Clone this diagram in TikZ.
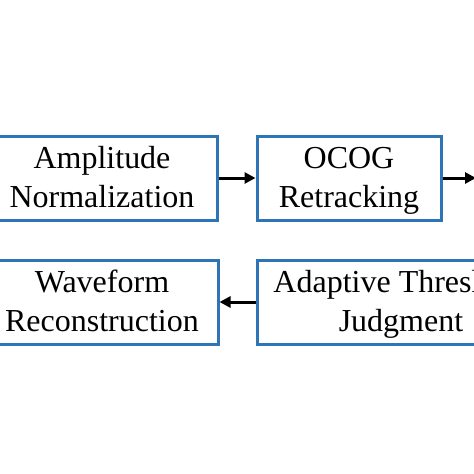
\documentclass[tikz,border=0pt]{standalone}
\usepackage{fontspec}
\setmainfont{Liberation Serif}
\usetikzlibrary{arrows.meta}
\definecolor{boxblue}{RGB}{46,117,182}
\newcommand{\linestrut}{\rule[-7pt]{0pt}{34pt}}

\begin{document}
\begin{tikzpicture}[x=1pt, y=1pt,
	every node/.style={font=\fontsize{32}{39}\selectfont, align=center},
	stagebox/.style={draw=boxblue, line width=3pt, fill=white, minimum height=84pt, inner sep=0pt},
	flow/.style={line width=3pt, -{Triangle[length=11pt, width=11pt]}}]
	\useasboundingbox (0,0) rectangle (474,-474);
	\clip (0,0) rectangle (474,-474);
	% upper row
	\node[stagebox, minimum width=230pt] (ampnorm) at (102,-178) {\linestrut Amplitude\\\linestrut Normalization};
	\node[stagebox, minimum width=184pt] (ocog) at (349,-178) {\linestrut OCOG\\\linestrut Retracking};
	% lower row
	\node[stagebox, minimum width=232pt] (waveform) at (102,-302) {\linestrut Waveform\\\linestrut Reconstruction};
	\node[stagebox, minimum width=288pt] (adaptive) at (401,-302) {\linestrut Adaptive Threshold\\\linestrut Judgment};
	\coordinate (offright) at (476,-178);
	\draw[flow] (ampnorm) -- (ocog);
	\draw[flow] (ocog) -- (offright);
	\draw[flow] (adaptive) -- (waveform);
\end{tikzpicture}
\end{document}
